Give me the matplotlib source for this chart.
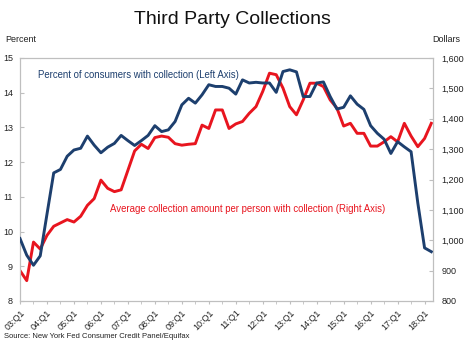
import numpy as np
import matplotlib.pyplot as plt

plt.rcParams['font.family'] = ['Liberation Sans', 'DejaVu Sans']

# quarterly, 2003:Q1 - 2018:Q2
pct_collection = [9.80, 9.32, 9.03, 9.30, 10.50, 11.69, 11.79, 12.17, 12.35, 12.40,
                  12.75, 12.49, 12.27, 12.43, 12.54, 12.77, 12.62, 12.48, 12.62, 12.77,
                  13.05, 12.88, 12.93, 13.17, 13.65, 13.84, 13.70, 13.94, 14.23, 14.18,
                  14.18, 14.13, 13.96, 14.37, 14.28, 14.30, 14.28, 14.28, 14.01, 14.61,
                  14.66, 14.60, 13.89, 13.89, 14.28, 14.31, 13.89, 13.53, 13.58, 13.91,
                  13.67, 13.52, 13.05, 12.83, 12.66, 12.25, 12.59, 12.44, 12.30, 10.82,
                  9.53, 9.42]
avg_amount = [900, 867, 994, 971, 1016, 1046, 1057, 1068, 1060, 1079,
              1115, 1137, 1198, 1171, 1160, 1166, 1230, 1294, 1316, 1302,
              1338, 1343, 1339, 1318, 1313, 1316, 1318, 1379, 1368, 1429,
              1429, 1368, 1383, 1391, 1418, 1440, 1490, 1550, 1545, 1501,
              1440, 1413, 1462, 1517, 1517, 1506, 1462, 1435, 1376, 1385,
              1352, 1352, 1310, 1310, 1324, 1341, 1324, 1385, 1343, 1308,
              1335, 1385]
year_labels = ['03:Q1', '04:Q1', '05:Q1', '06:Q1', '07:Q1', '08:Q1', '09:Q1', '10:Q1',
               '11:Q1', '12:Q1', '13:Q1', '14:Q1', '15:Q1', '16:Q1', '17:Q1', '18:Q1']

blue = '#1d3f6e'
red = '#e8151f'
grey = '#bfbfbf'
txt = '#222222'

x = np.arange(len(pct_collection))

fig = plt.figure(figsize=(4.74, 3.45), dpi=100)
ax = fig.add_axes([20/474, 1-301/345, 413/474, 243/345])
ax2 = ax.twinx()

ax.plot(x, pct_collection, color=blue, lw=2.1, zorder=3)
ax2.plot(x, avg_amount, color=red, lw=2.1)
ax.set_zorder(ax2.get_zorder() + 1)
ax.patch.set_visible(False)

ax.set_xlim(0, 61.25)
ax.set_ylim(8, 15)
ax2.set_ylim(800, 1600)
ax.set_yticks(range(8, 16))
ax2.set_yticks(range(800, 1601, 100))
ax2.set_yticklabels([f'{v:,}' for v in range(800, 1601, 100)])

ax.set_xticks(np.arange(0, 61, 4))
ax.set_xticklabels(year_labels, rotation=45, ha='right', va='top',
                   rotation_mode='anchor')
ax.set_xticks(np.arange(2, 61, 4), minor=True)

for a in (ax, ax2):
    for s in a.spines.values():
        s.set_color(grey)
        s.set_linewidth(0.8)
ax.tick_params(axis='y', direction='in', length=3, color=grey, labelsize=6.5,
               labelcolor=txt, pad=5)
ax2.tick_params(axis='y', direction='in', length=3, color=grey, labelsize=6.5,
                labelcolor=txt, pad=6)
ax.tick_params(axis='x', which='both', direction='out', length=2, color=grey,
               labelsize=6.5, labelcolor=txt, pad=3)

fig.text(0.49, 1-20/345, 'Third Party Collections', ha='center', va='center',
         fontsize=14, color='#111111')
fig.text(5/474, 1-39/345, 'Percent', ha='left', va='center', fontsize=6.5,
         color=txt)
fig.text(432/474, 1-39/345, 'Dollars', ha='left', va='center', fontsize=6.5,
         color=txt)
fig.text(4/474, 1-337/345, 'Source: New York Fed Consumer Credit Panel/Equifax',
         ha='left', va='center', fontsize=5.5, color=txt)

ax.text(2.6, 14.5, 'Percent of consumers with collection (Left Axis)',
        color=blue, fontsize=6.9, ha='left', va='center')
ax.text(13.3, 10.65, 'Average collection amount per person with collection (Right Axis)',
        color=red, fontsize=6.9, ha='left', va='center')

fig.savefig('out.png', dpi=100)
